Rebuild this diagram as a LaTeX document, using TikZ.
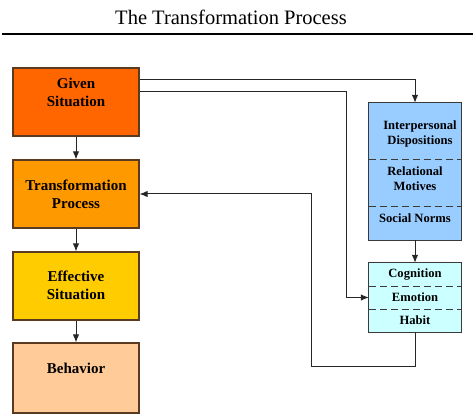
\documentclass[tikz,border=0pt]{standalone}
\usepackage{fontspec}
\setmainfont{Liberation Serif}
\usetikzlibrary{arrows.meta}

\definecolor{givenc}{HTML}{FF6600}
\definecolor{transc}{HTML}{FF9900}
\definecolor{effectc}{HTML}{FFCC00}
\definecolor{behavc}{HTML}{FFCC99}
\definecolor{dispc}{HTML}{99CCFF}
\definecolor{cognc}{HTML}{CCFFFF}
\definecolor{edgec}{HTML}{3A3A3A}
\definecolor{brownc}{HTML}{5A3A20}

\tikzset{
  leftbox/.style={draw=brownc, line width=1.2pt, minimum width=126pt, minimum height=68pt, inner sep=0pt},
  section/.style={minimum width=92pt, inner sep=0pt, font=\bfseries\fontsize{12.6}{15}\selectfont},
  boxtext/.style={inner sep=0.75pt, align=center, font=\bfseries\fontsize{15}{18}\selectfont},
  smalltext/.style={inner sep=0.75pt, align=center, font=\bfseries\fontsize{12.6}{15}\selectfont},
  secborder/.style={draw=edgec, line width=1.2pt},
  secdash/.style={draw=edgec, line width=1.2pt, dash pattern={on 7pt off 4pt}},
  arr/.style={draw=black!85, line width=1pt, -{Latex[length=8pt,width=6.5pt]}}
}

\begin{document}
\begin{tikzpicture}[x=1pt,y=1pt,yscale=-1,xscale=1]
\useasboundingbox (0,0) rectangle (474,414);

% Title
\node (title) at (231,17) [inner sep=0pt, font=\fontsize{20.5}{24}\selectfont] {The Transformation Process};
%Straight Lines [title rule]
\draw [line width=2.2pt] (2,34) -- (473,34);

%Shape: left column
\node [leftbox, fill=givenc] (given) at (76,102) {};
\node [leftbox, fill=transc] (trans) at (76,194) {};
\node [leftbox, fill=effectc] (effect) at (76,286) {};
\node [leftbox, fill=behavc, minimum height=70pt] (behav) at (76,378) {};

% Text Node
\node [boxtext] (giventxt) at (76,92) {Given\\Situation};
% Text Node
\node [boxtext] (transtxt) at (76,194.5) {Transformation\\Process};
% Text Node
\node [boxtext] (effecttxt) at (76,285.5) {Effective\\Situation};
% Text Node
\node [boxtext] (behavtxt) at (76,368) {Behavior};

%Shape: dispositions box
\node [section, fill=dispc, minimum height=56pt] (intp) at (415,131) {};
\node [section, fill=dispc, minimum height=47pt] (relm) at (415,182.5) {};
\node [section, fill=dispc, minimum height=34pt] (norms) at (415,223) {};
\draw [secborder] (intp.north west) rectangle (norms.south east);
\draw [secdash] (intp.south west) -- (intp.south east);
\draw [secdash] (relm.south west) -- (relm.south east);

% Text Node
\node [smalltext] (intptxt) at (420,134) {Interpersonal\\Dispositions};
% Text Node
\node [smalltext] (relmtxt) at (415,179) {Relational\\Motives};
% Text Node
\node [smalltext] (normstxt) at (415,218) {Social Norms};

%Shape: cognition box
\node [section, fill=cognc, minimum height=23pt] (cogn) at (415,274.5) {Cognition};
\node [section, fill=cognc, minimum height=23pt] (emot) at (415,297.5) {Emotion};
\node [section, fill=cognc, minimum height=23pt] (habit) at (415,320.5) {Habit};
\draw [secborder] (cogn.north west) rectangle (habit.south east);
\draw [secdash] (cogn.south west) -- (cogn.south east);
\draw [secdash] (emot.south west) -- (emot.south east);

% bends
\coordinate (bendA) at (346,92);
\coordinate (bendB) at (311,366);
\coordinate (bendC) at (415,80);

%Straight Lines
\draw [arr] (given) -- (trans);
\draw [arr] (trans) -- (effect);
\draw [arr] (effect) -- (behav);
\draw [arr] (norms.south) -- (cogn.north);
%Straight Lines
\draw [arr] (given.east |- bendC) -- (bendC) -- (intp.north);
\draw [arr] (given.east |- bendA) -- (bendA) |- (emot.west);
\draw [arr] (habit.south) |- (bendB) |- (trans.east);
\end{tikzpicture}
\end{document}
